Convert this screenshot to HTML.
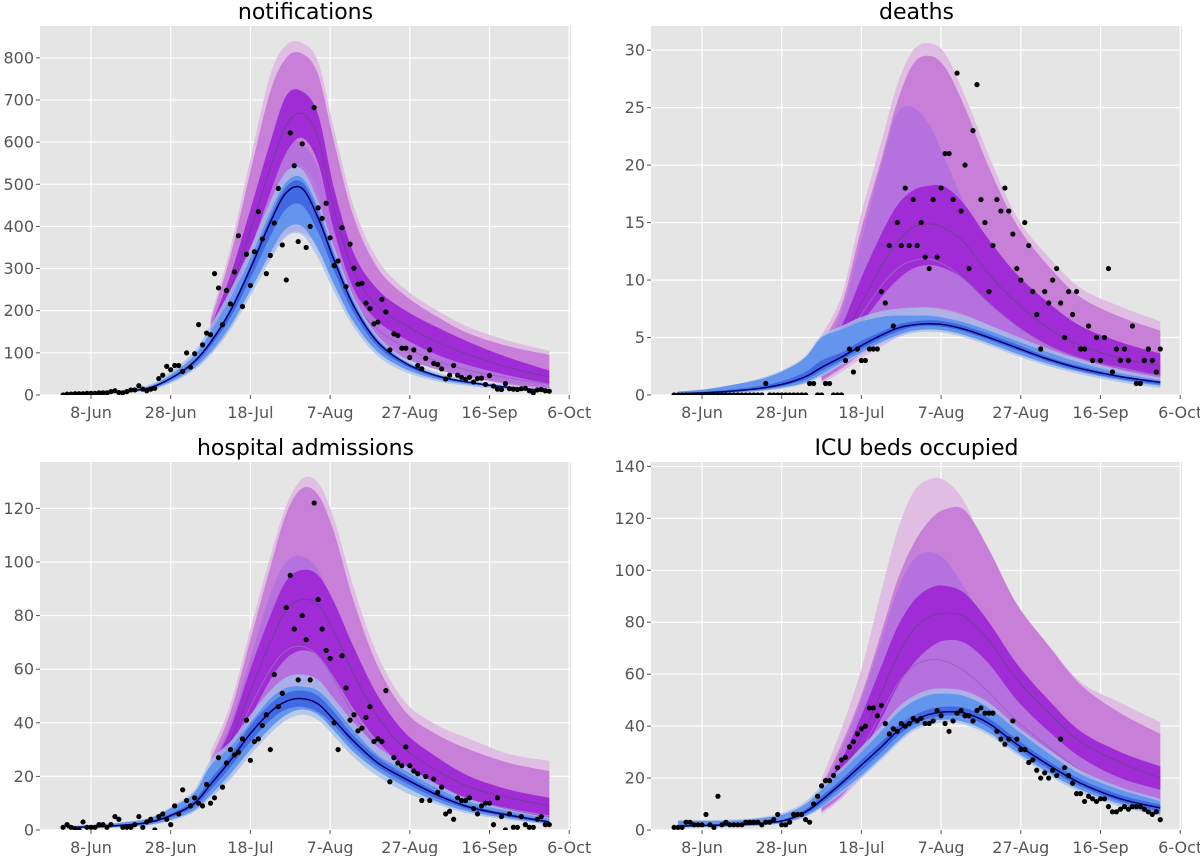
<!DOCTYPE html>
<html><head><meta charset="utf-8">
<style>
html,body{margin:0;padding:0;background:#fff;}
svg{display:block;font-family:"DejaVu Sans","Liberation Sans",sans-serif;}
</style></head>
<body>
<svg id="fig" width="1200" height="856" viewBox="0 0 1200 856"></svg>
<script>
// ---------- shared grids ----------
const blueDays = [1,8,15,22,28,33,37,42,47,52,56,60,64,68,73,79,86,94,102,112,122];
const purpleDays = [37,42,47,52,56,60,64,68,73,79,86,94,102,112,122];
const tickDays = [7,27,47,67,87,107,127];
const tickLabels = ["8-Jun","28-Jun","18-Jul","7-Aug","27-Aug","16-Sep","6-Oct"];

// ---------- notifications ----------
const notifYTicks = [0,100,200,300,400,500,600,700,800];
const notifBlueMed = [2,4,8,18,45,80,125,200,300,410,480,490,420,320,210,125,75,45,30,18,10];
const notifBlueOutLo = [1,2,5,12,32,60,95,155,235,320,375,380,325,245,160,92,54,32,21,12,6];
const notifBlueOutHi = [3,6,12,26,62,105,165,250,350,460,530,535,460,352,232,140,86,53,36,23,14];
const notifBlueMidLo = [1,3,6,14,36,65,102,165,248,338,395,400,345,262,172,102,61,37,25,15,8];
const notifBlueMidHi = [3,5,10,22,55,95,150,230,325,435,505,515,445,338,222,133,80,48,32,19,11];
const notifBlueInLo = [2,4,7,16,41,73,115,184,276,377,442,450,386,294,193,115,69,41,28,16,9];
const notifBlueInHi = [2,4,8,19,47,83,129,206,309,422,494,505,433,330,216,129,77,46,31,19,10];
const notifPurOutLo = [100,175,280,390,470,480,420,290,185,125,90,62,40,24,14];
const notifPurOutHi = [185,350,560,760,830,835,790,630,445,320,250,200,160,128,105];
const notifPurMidLo = [105,185,300,420,520,545,480,330,205,140,100,70,45,25,15];
const notifPurMidHi = [175,330,530,720,800,810,760,600,420,300,235,185,145,115,95];
const notifPur2Lo = [95,160,250,330,380,385,350,265,175,120,85,60,42,28,18];
const notifPur2Hi = [150,270,420,550,600,595,540,400,270,190,140,100,75,52,35];
const notifPur2Med = [120,215,330,440,490,490,445,330,220,155,112,80,58,40,26];
const notifPurInLo = [115,220,345,480,575,610,550,390,250,175,132,95,70,46,27];
const notifPurInHi = [160,285,440,600,710,720,665,490,335,250,200,160,125,88,58];
const notifPurMed = [135,250,390,540,640,668,610,440,290,210,165,125,95,65,42];
const notifObs = [0,2,2,3,3,3,4,4,4,5,5,5,8,10,6,5,8,12,12,22,14,10,14,16,
39,47,68,60,70,70,56,100,66,98,167,119,147,143,
288,254,167,248,216,292,378,210,334,260,340,435,370,288,
331,408,490,356,273,622,544,364,596,350,400,682,444,419,
455,373,307,318,397,257,358,301,263,265,218,205,169,173,
227,197,107,145,141,111,111,89,107,70,62,87,107,75,
72,62,38,47,70,47,42,37,42,31,39,40,25,46,21,14,13,27,
15,14,13,15,16,10,5,12,13,10,9];

// ---------- deaths ----------
const deathYTicks = [0,5,10,15,20,25,30];
const deathBlueMed = [0.1,0.2,0.35,0.6,1.0,1.6,2.4,3.3,4.3,5.2,5.8,6.1,6.2,6.1,5.7,5.0,4.1,3.1,2.3,1.6,1.1];
const deathBlueOutLo = [0.05,0.1,0.2,0.35,0.6,1.0,1.6,2.6,3.5,4.4,5.0,5.4,5.5,5.4,5.0,4.3,3.4,2.5,1.8,1.1,0.6];
const deathBlueOutHi = [0.3,0.5,0.9,1.5,2.3,3.4,5.2,6.0,6.8,7.3,7.5,7.6,7.6,7.4,6.9,6.1,5.1,4.0,3.1,2.2,1.5];
const deathBlueMidLo = [0.06,0.12,0.22,0.4,0.7,1.1,1.8,2.8,3.7,4.6,5.2,5.6,5.7,5.6,5.2,4.5,3.6,2.7,2.0,1.3,0.8];
const deathBlueMidHi = [0.3,0.5,0.9,1.4,2.2,3.3,5.0,5.7,6.4,6.8,6.9,6.9,6.9,6.7,6.3,5.6,4.7,3.7,2.8,1.9,1.3];
const deathBlueInLo = [0.08,0.15,0.3,0.5,0.85,1.35,2.1,3.0,4.0,4.9,5.5,5.9,6.0,5.9,5.5,4.8,3.9,2.9,2.1,1.4,0.9];
const deathBlueInHi = [0.15,0.3,0.5,0.8,1.3,2.0,3.0,3.7,4.7,5.5,6.1,6.4,6.5,6.4,6.0,5.3,4.4,3.3,2.5,1.7,1.2];
const deathPurOutLo = [1.0,2.0,3.2,4.2,5.0,5.5,5.7,5.6,5.2,4.5,3.6,2.7,2.1,1.5,1.1];
const deathPurOutHi = [5.2,8.6,15.8,22,27,30,30.6,29.7,26,20.8,15.5,12,9.3,7.7,6.4];
const deathPurMidLo = [1.2,2.3,3.6,4.8,5.6,6.2,6.4,6.3,5.8,5.0,4.0,3.0,2.3,1.7,1.2];
const deathPurMidHi = [4.6,7.8,14.5,20.5,25.5,28.8,29.5,28.5,25,19.8,14.8,11.2,8.5,6.8,5.6];
const deathPur2Lo = [1.3,2.5,4.0,5.5,6.6,7.3,7.6,7.5,7.0,6.0,4.7,3.5,2.6,1.8,1.3];
const deathPur2Hi = [4.0,7.2,13.5,20,24.5,25,23.5,20.5,16.5,12.5,9,6.5,4.8,3.6,2.8];
const deathPur2Med = [2.2,4.2,7.0,9.5,11.0,11.7,11.8,11.3,10.0,8.0,6.0,4.3,3.2,2.3,1.7];
const deathPurInLo = [2.0,3.8,6.2,8.5,10.0,11.0,11.3,11.0,10.0,8.0,6.0,4.3,3.2,2.4,1.7];
const deathPurInHi = [3.2,6.0,10.2,14.0,16.5,17.8,18.2,18.1,16.5,13.5,10.5,8.0,6.0,4.6,3.6];
const deathPurMed = [2.5,4.8,8.0,11.2,13.3,14.6,14.9,14.5,13.2,10.5,8.0,5.8,4.3,3.2,2.5];
const deathObs = [0,0,0,0,0,0,0,0,0,0,0,0,0,0,0,0,0,0,0,0,0,0,0,1,
0,0,0,0,0,0,0,0,0,0,1,1,0,0,1,1,0,0,0,
3,4,2,4,3,3,4,4,4,9,8,13,6,15,13,18,13,17,13,15,12,11,17,12,18,21,21,17,28,16,20,11,23,27,17,15,9,13,17,16,18,16,14,11,10,15,13,9,7,4,9,8,10,11,8,5,9,7,9,4,4,6,3,5,3,5,11,2,4,3,4,3,6,1,1,3,4,3,2,4];

// ---------- hospital admissions ----------
const hospYTicks = [0,20,40,60,80,100,120];
const hospBlueMed = [1,1.2,1.8,3,6,10,17,26,36,44,48,49,47,41,33,25,19,13,8.5,5.5,3];
const hospBlueOutLo = [0.5,0.6,1,1.8,3.8,6.8,12,19,28,36,41,43,41,35,27,20,14,9.5,6,3.8,2];
const hospBlueOutHi = [1.6,2,3,4.8,9.5,15,26,33,43,52,57,58,56,49,40,31,24,17,11.5,7.5,4.5];
const hospBlueMidLo = [0.6,0.7,1.2,2.1,4.3,7.5,13,21,30,38,43,45,43,37,29,22,16,10.5,6.8,4.3,2.3];
const hospBlueMidHi = [1.5,1.8,2.8,4.5,9,14,24,31,40,49,53,53.5,52,46,37,28,22,15.5,10.5,7,4.2];
const hospBlueInLo = [0.8,1,1.5,2.6,5.2,8.8,15,23.5,33,41,45,46,44,39,31,23.5,17.5,11.7,7.7,4.9,2.6];
const hospBlueInHi = [1.2,1.4,2.1,3.4,6.8,11.3,19,28,39,47,51,52,50,44,35,27,20.5,14,9.3,6.1,3.4];
const hospPurOutLo = [11,20,30,39,43,45,44,39,31,23,16,11,7.5,5,3];
const hospPurOutHi = [29,47,75,102,121,131,129.5,116,90,65,47.5,39,34,28.3,25.8];
const hospPurMidLo = [13,23,35,45,51,54,53,47,37,27,19,13,9,6,4];
const hospPurMidHi = [26,44,71,98,118,127.5,125,111,85,61,44,35.5,30,25,22];
const hospPur2Lo = [13,22,33,42,48,50,49,44,35,26,18,12.5,8.5,6,4];
const hospPur2Hi = [24,40,64,88,100,102,97,82,62,45,33,24,17,12,9];
const hospPur2Med = [18,30,46,60,67,68.5,65,56,43,31,22,15.5,11,7.5,5];
const hospPurInLo = [15,27,42,56,64,67,65,57,45,33,23,16,11.5,8,5.5];
const hospPurInHi = [22,38,60,80,93,97,95,85,68,50,36,27,20,15,12];
const hospPurMed = [19,33,52,70,82,86,84,74,58,42,30,22,16,12,9];
const hospObs = [1,2,1,0.5,0,3,1,1,1,2,2,1,2,5,4,1,1,1,2,5,1,3,4,0,5,6,4,2,9,6,15,11,9,12,10,9,17,10,12,27,16,25,30,28,29,34,41,26,33,34,39,43,30,58,46,51,83,95,75,56,80,71,56,122,86,75,67,64,40,30,65,53,41,43,37,38,42,46,33,34,33,52,18,27,25,24,31,24,22,21,11,20,11,19,14,16,6,7,4,12,11,11,12,8,6,9,10,10,2,12,5,0,6,1,1,5,2,1,1,4,5,2,2];

// ---------- ICU beds ----------
const icuYTicks = [0,20,40,60,80,100,120,140];
const icuBlueMed = [1.5,1.8,2,2.5,3.8,7,11.5,18,25,32,38,42,44.5,45.5,45,41,33,25,18,12,8.5];
const icuBlueOutLo = [0.8,1,1.2,1.7,2.8,5,8.5,14,20,27,33,38,40.5,41.5,40.5,36.5,29,21,14.5,9,5.5];
const icuBlueOutHi = [3.8,3.8,4,5,7,11,17,24,32,40,47,51.5,54,54.5,53.5,49,40,31,23,16.5,12];
const icuBlueMidLo = [1,1.2,1.4,1.9,3,5.5,9,15,21,28,34,39,41.5,42.5,41.5,37.5,30,22,15.5,10,6];
const icuBlueMidHi = [3.5,3.5,3.6,4.5,6.3,10,15.5,22.5,30,38,45,49.5,52,52.5,51.5,47,38.5,29.5,21.5,15.5,11];
const icuBlueInLo = [1.2,1.5,1.7,2.2,3.4,6.2,10.2,16.5,23,30,36,40.5,43,44,43.5,39.5,31.5,23.5,16.8,11,7.2];
const icuBlueInHi = [1.9,2.1,2.3,2.9,4.3,8,13,19.5,27,34,40,44,46.5,47.5,47,43,35,26.5,19.5,13.5,9.8];
const icuPurOutLo = [6,12,20,30,38,43,45,46,45,40,32,24,17,12,8];
const icuPurOutHi = [19.5,39,62,92,115,130,135,134.5,126,104,86,71,57,49,41.5];
const icuPurMidLo = [7.5,14,24,35,44,50,53,54,53,47,38,29,21,14.5,10];
const icuPurMidHi = [17,33,52,76,96,110,119,123.5,123,108,87,71,56,45,37];
const icuPur2Lo = [7,13,22,32,39,43,45,45.5,44,40,33,25,18,12,8];
const icuPur2Hi = [16,31,50,73,92,104,107,104,93,78,62,48,37,29,22];
const icuPur2Med = [10,19,31,45,56,63,65.5,65,61,53,42,32,23,16,11];
const icuPurInLo = [9,17,29,43,55,64,70,73,72,64,50,38,28,20,15.5];
const icuPurInHi = [14,27,44,63,78,88,93,94,91,80,64,50,38,30,24.5];
const icuPurMed = [12,22,36,53,67,77,82,83.5,82,73,58,45,34,26,20];
const icuObs = [1,1,1,3,3,2,2,2,6,2,1,13,2,3,2,2,2,2,3,3,3,3,2,3,3,4,6,2,2,3,6,6,6,4,3,10,13,17,19,19,21,24,27,28,32,34,37,39,40,47,47,44,48,41,37,39,38,41,40,41,43,42,43,41,41,42,46,44,41,38,42,45,46,44,44,42,46,47,45,45,45,38,35,33,35,42,35,31,31,26,27,23,20,22,20,23,21,35,24,21,18,14,14,11,13,12,11,12,12,9,7,7,8,9,8,9,9,9,8,7,6,7,4];

const NS = "http://www.w3.org/2000/svg";
const svg = document.getElementById('fig');
function mk(tag, attrs, parent){ const e=document.createElementNS(NS,tag); for(const k in attrs) e.setAttribute(k,attrs[k]); (parent||svg).appendChild(e); return e; }

function smoothPts(pts){
  let d = "M"+pts[0][0].toFixed(2)+","+pts[0][1].toFixed(2);
  for(let i=0;i<pts.length-1;i++){
    const p0=pts[Math.max(0,i-1)], p1=pts[i], p2=pts[i+1], p3=pts[Math.min(pts.length-1,i+2)];
    const c1=[p1[0]+(p2[0]-p0[0])/6, p1[1]+(p2[1]-p0[1])/6];
    const c2=[p2[0]-(p3[0]-p1[0])/6, p2[1]-(p3[1]-p1[1])/6];
    d+=" C"+c1[0].toFixed(2)+","+c1[1].toFixed(2)+" "+c2[0].toFixed(2)+","+c2[1].toFixed(2)+" "+p2[0].toFixed(2)+","+p2[1].toFixed(2);
  }
  return d;
}
function bandPath(days, lo, hi, X, Y){
  const up = days.map((d,i)=>[X(d),Y(hi[i])]);
  const dn = days.map((d,i)=>[X(d),Y(lo[i])]).reverse();
  let d = smoothPts(up);
  d += " L" + smoothPts(dn).slice(1);
  return d+" Z";
}

function panel(cfg){
  const {left, top, bottom, ymax, yTicks, title, name, s} = cfg;
  const right = left + 531;
  const X = t => left + 51 + (t-7)*3.985;
  const Y = v => bottom - v*(bottom-top)/ymax;
  const g = mk('g',{});
  
  
  const bg = mk('rect',{x:left,y:top,width:right-left,height:bottom-top,fill:'#e5e5e5'},g);
  
  
  const clipId = 'clip-'+name;
  const cp = mk('clipPath',{id:clipId},g); mk('rect',{x:left,y:top,width:right-left,height:bottom-top},cp);
  yTicks.forEach((v,i)=>{
    const gl = mk('line',{x1:left,x2:right,y1:Y(v),y2:Y(v),stroke:'#fff','stroke-width':1.2},g);
    
    
    mk('line',{x1:left-4,x2:left,y1:Y(v),y2:Y(v),stroke:'#555','stroke-width':1},g);
    const tl = mk('text',{x:left-6,y:Y(v)+5.5,'text-anchor':'end','font-size':16,fill:'#555'},g);
    tl.textContent = v;
    
    
  });
  tickDays.forEach((t,i)=>{
    const gl = mk('line',{x1:X(t),x2:X(t),y1:top,y2:bottom,stroke:'#fff','stroke-width':1.2},g);
    
    
    mk('line',{x1:X(t),x2:X(t),y1:bottom,y2:bottom+4,stroke:'#555','stroke-width':1},g);
    const tl = mk('text',{x:X(t),y:bottom+23,'text-anchor':'middle','font-size':16,fill:'#555'},g);
    tl.textContent = tickLabels[i];
    
    
  });
  const plot = mk('g',{'clip-path':'url(#'+clipId+')'},g);
  function band(lo,hi,fill,op,nm,days){
    const p = mk('path',{d:bandPath(days,lo,hi,X,Y),fill:fill,'fill-opacity':op,stroke:'none'},plot);
    
    
  }
  function line(vals,color,w,nm,days){
    const p = mk('path',{d:smoothPts(days.map((d,i)=>[X(d),Y(vals[i])])),fill:'none',stroke:color,'stroke-width':w},plot);
    
    
  }
  band(s.pOutLo,s.pOutHi,'#e0bde3',1,'purple-outer-band',purpleDays);
  band(s.pMidLo,s.pMidHi,'#c77fd7',1,'purple-mid-band',purpleDays);
  band(s.p2Lo,s.p2Hi,'#b26ede',0.85,'purple-alt-band',purpleDays);
  band(s.pInLo,s.pInHi,'#a02cd6',1,'purple-inner-band',purpleDays);
  line(s.p2Med,'#9b62c4',1,'purple-alt-median',purpleDays);
  line(s.pMed,'#6f3f98',1,'purple-median',purpleDays);
  band(s.bOutLo,s.bOutHi,'#a8c0ea',0.8,'blue-outer-band',blueDays);
  band(s.bMidLo,s.bMidHi,'#6495ed',1,'blue-mid-band',blueDays);
  band(s.bInLo,s.bInHi,'#4169e1',1,'blue-inner-band',blueDays);
  line(s.bMed,'#00006e',1.5,'blue-median',blueDays);
  s.obs.forEach((v,t)=>{
    const c = mk('circle',{cx:X(t),cy:Y(v),r:2.6,fill:'#000'},plot);
    
    
  });
  const tt = mk('text',{x:(left+right)/2,y:top-7,'text-anchor':'middle','font-size':22,fill:'#000'},g);
  tt.textContent = title;
  
  
}

panel({left:40, top:26, bottom:395, ymax:875.5, yTicks:notifYTicks, title:'notifications', name:'notifications',
  s:{bMed:notifBlueMed,bOutLo:notifBlueOutLo,bOutHi:notifBlueOutHi,bMidLo:notifBlueMidLo,bMidHi:notifBlueMidHi,bInLo:notifBlueInLo,bInHi:notifBlueInHi,
     pOutLo:notifPurOutLo,pOutHi:notifPurOutHi,pMidLo:notifPurMidLo,pMidHi:notifPurMidHi,p2Lo:notifPur2Lo,p2Hi:notifPur2Hi,p2Med:notifPur2Med,pInLo:notifPurInLo,pInHi:notifPurInHi,pMed:notifPurMed,obs:notifObs}});
panel({left:651, top:26, bottom:395, ymax:32.1, yTicks:deathYTicks, title:'deaths', name:'deaths',
  s:{bMed:deathBlueMed,bOutLo:deathBlueOutLo,bOutHi:deathBlueOutHi,bMidLo:deathBlueMidLo,bMidHi:deathBlueMidHi,bInLo:deathBlueInLo,bInHi:deathBlueInHi,
     pOutLo:deathPurOutLo,pOutHi:deathPurOutHi,pMidLo:deathPurMidLo,pMidHi:deathPurMidHi,p2Lo:deathPur2Lo,p2Hi:deathPur2Hi,p2Med:deathPur2Med,pInLo:deathPurInLo,pInHi:deathPurInHi,pMed:deathPurMed,obs:deathObs}});
panel({left:40, top:462, bottom:830, ymax:137.3, yTicks:hospYTicks, title:'hospital admissions', name:'hospital-admissions',
  s:{bMed:hospBlueMed,bOutLo:hospBlueOutLo,bOutHi:hospBlueOutHi,bMidLo:hospBlueMidLo,bMidHi:hospBlueMidHi,bInLo:hospBlueInLo,bInHi:hospBlueInHi,
     pOutLo:hospPurOutLo,pOutHi:hospPurOutHi,pMidLo:hospPurMidLo,pMidHi:hospPurMidHi,p2Lo:hospPur2Lo,p2Hi:hospPur2Hi,p2Med:hospPur2Med,pInLo:hospPurInLo,pInHi:hospPurInHi,pMed:hospPurMed,obs:hospObs}});
panel({left:651, top:462, bottom:830, ymax:141.7, yTicks:icuYTicks, title:'ICU beds occupied', name:'icu-beds',
  s:{bMed:icuBlueMed,bOutLo:icuBlueOutLo,bOutHi:icuBlueOutHi,bMidLo:icuBlueMidLo,bMidHi:icuBlueMidHi,bInLo:icuBlueInLo,bInHi:icuBlueInHi,
     pOutLo:icuPurOutLo,pOutHi:icuPurOutHi,pMidLo:icuPurMidLo,pMidHi:icuPurMidHi,p2Lo:icuPur2Lo,p2Hi:icuPur2Hi,p2Med:icuPur2Med,pInLo:icuPurInLo,pInHi:icuPurInHi,pMed:icuPurMed,obs:icuObs}});
</script>
</body></html>
